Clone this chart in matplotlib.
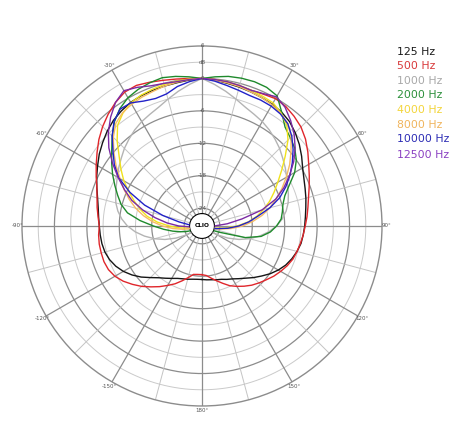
import numpy as np
import matplotlib
matplotlib.use("Agg")
import matplotlib.pyplot as plt

# angles in degrees, 0 = on axis, positive = clockwise (right side), 5 degree steps
angles = list(range(-180, 181, 5))

# level in dB; rows: -180..-125, -120..-65, -60..-5, 0, 5..60, 65..120, 125..180
# (-27 = below the plot, lost in the centre hole)
db_125 = [-17.4, -17.4, -17.3, -17.1, -16.9, -16.6, -16.1, -15.5, -14.8, -13.8, -12.6, -11.5,
          -10.5, -9.7, -9.1, -8.7, -8.5, -8.4, -8.3, -8.1, -7.8, -7.3, -6.6, -5.8,
          -5.0, -4.1, -3.3, -2.5, -1.8, -1.3, -0.9, -0.7, -0.6, -0.5, -0.4, -0.2,
          0.0,
          -0.2, -0.5, -0.7, -0.9, -1.1, -1.3, -1.6, -2.1, -2.9, -3.8, -4.8, -5.8,
          -6.5, -7.0, -7.4, -7.8, -8.1, -8.3, -8.5, -8.7, -9.1, -9.6, -10.2, -11.0,
          -11.9, -12.9, -13.8, -14.7, -15.4, -16.0, -16.4, -16.8, -17.0, -17.2, -17.3, -17.4]
db_500 = [-18.3, -18.3, -18.2, -17.4, -16.5, -15.5, -14.6, -13.6, -12.6, -11.5, -10.5, -9.5,
          -8.7, -8.2, -8.0, -8.0, -8.0, -8.1, -8.3, -8.0, -7.6, -7.2, -6.6, -5.7,
          -4.7, -3.6, -2.4, -1.3, -0.3, 0.6, 1.3, 1.4, 1.0, 0.6, 0.3, 0.1,
          0.0,
          -0.1, -0.3, -0.5, -0.6, -0.4, -0.1, -0.3, -0.8, -1.4, -2.3, -3.4, -4.5,
          -5.4, -6.2, -6.9, -7.4, -7.8, -8.2, -8.5, -8.8, -9.1, -9.4, -9.9, -10.5,
          -11.1, -11.8, -12.4, -13.0, -13.7, -14.4, -15.1, -16.0, -16.8, -17.5, -18.1, -18.3]
db_1000 = [-27] * 11 + [-25.8,
           -24.0, -22.0, -20.0, -18.2, -16.5, -14.9, -13.5, -12.4, -11.5, -10.8, -10.3, -9.8,
           -9.2, -8.5, -7.8, -7.0, -6.3, -5.6, -5.0, -4.5, -3.9, -3.0, -2.0, -1.0,
           0.0,
           -1.0, -2.0, -3.0, -3.9, -4.5, -5.0, -5.6, -6.3, -7.0, -7.8, -8.5, -9.2,
           -9.8, -10.3, -10.8, -11.5, -12.4, -13.5, -14.9, -16.5, -18.2, -20.0, -22.0, -24.0,
           -25.8] + [-27] * 11
db_2000 = [-27] * 12 + [
           -26.5, -25.5, -24.3, -23.2, -21.8, -20.2, -18.3, -15.8, -13.3, -11.8, -10.7, -9.5,
           -8.2, -6.9, -5.5, -3.8, -2.1, -0.8, 0.1, 0.6, 0.9, 1.1, 0.8, 0.4,
           0.0,
           0.4, 0.8, 1.0, 1.1, 1.0, 0.5, -1.6, -3.4, -4.2, -4.9, -6.0, -7.5,
           -9.5, -11.0, -11.8, -12.2, -12.6, -13.5, -14.6, -16.2, -19.0, -24.0, -25.8, -26.8,
           ] + [-27] * 12
db_4000 = [-27] * 12 + [
           -27, -27, -27, -26.5, -25.0, -23.2, -21.2, -19.0, -17.0, -15.5, -14.0, -12.4,
           -10.6, -9.0, -7.3, -5.1, -3.0, -1.8, -1.0, -0.6, -0.4, -0.2, -0.1, 0.0,
           0.0,
           -0.1, -0.2, -0.4, -0.6, -0.8, -1.0, -1.8, -2.9, -4.8, -7.2, -9.3, -11.1,
           -12.6, -14.0, -15.5, -17.0, -18.7, -20.8, -23.0, -25.0, -26.5, -27, -27, -27,
           ] + [-27] * 12
db_8000 = [-27] * 12 + [
           -27, -27, -27, -25.8, -23.8, -21.9, -20.0, -18.1, -16.3, -14.6, -13.0, -11.4,
           -9.8, -7.9, -6.0, -4.1, -2.5, -1.7, -1.3, -1.0, -0.8, -0.5, -0.3, -0.1,
           0.0,
           -0.2, -0.4, -0.6, -0.9, -1.1, -1.4, -1.9, -2.6, -4.0, -5.8, -7.5, -9.3,
           -11.0, -12.7, -14.3, -16.0, -17.9, -19.8, -21.9, -24.0, -26.0, -27, -27, -27,
           ] + [-27] * 12
db_10000 = [-27] * 12 + [
            -27, -27, -27, -27, -27, -27, -26.5, -25.0, -23.0, -19.8, -16.0, -12.6,
            -9.5, -7.5, -5.8, -3.8, -2.0, -0.9, -1.0, -1.8, -2.2, -2.0, -1.1, -0.5,
            0.0,
            -0.4, -0.9, -1.3, -1.6, -1.6, -1.7, -2.0, -2.6, -3.8, -5.3, -6.9, -8.5,
            -10.2, -12.0, -14.3, -16.8, -18.6, -20.5, -22.5, -24.5, -26.0, -27, -27, -27,
            ] + [-27] * 12
db_12500 = [-27] * 12 + [
            -27, -27, -27, -27, -27, -25.2, -23.0, -20.8, -18.5, -16.0, -13.5, -11.5,
            -9.4, -7.1, -4.8, -2.8, -1.0, 0.6, 1.6, 1.0, 0.3, 0.0, -0.2, -0.1,
            0.0,
            -0.1, -0.2, -0.4, -0.6, -0.3, 0.3, -0.5, -1.8, -3.2, -4.8, -6.6, -8.6,
            -10.6, -12.8, -15.8, -19.8, -22.6, -25.0, -26.5, -27, -27, -27, -27, -27,
            ] + [-27] * 12

labels = ["125 Hz", "500 Hz", "1000 Hz", "2000 Hz", "4000 Hz", "8000 Hz", "10000 Hz", "12500 Hz"]
line_colors = ["#151515", "#e0262b", "#b4b4b4", "#1f8a2c", "#f1e21c", "#f6bb63", "#2222c8", "#7b2aa3"]
text_colors = ["#1a1a1a", "#d8393a", "#a8a8a8", "#2b8f3a", "#f3d53a", "#f0b45c", "#2c2cb4", "#8a40c2"]
series = [db_125, db_500, db_1000, db_2000, db_4000, db_8000, db_10000, db_12500]
for s in series:
    assert len(s) == len(angles)

ring_db = [-24, -21, -18, -15, -12, -9, -6, -3, 0, 3]
ring_labels = {6: "6", 3: "dB", 0: "0", -6: "-6", -12: "-12", -18: "-18", -24: "-24"}
angle_labels = [-150, -120, -90, -60, -30, 30, 60, 90, 120, 150, 180]

fig = plt.figure(figsize=(4.74, 4.4), dpi=100)
ax = fig.add_axes([0.0464, 0.0773, 0.7595, 0.8182], projection="polar")
ax.set_theta_zero_location("N")
ax.set_theta_direction(-1)
ax.set_ylim(-25, 6)
ax.set_rorigin(-27.3)
ax.grid(False)
ax.set_xticks([])
ax.set_yticks([])
ax.spines["polar"].set_color("#8c8c8c")
ax.spines["polar"].set_linewidth(1.0)
ax.spines["inner"].set_visible(False)

# grid: rings every 3 dB (6 dB darker), spokes every 15 deg (30 deg darker)
full = np.linspace(0, 2 * np.pi, 400)
for r in ring_db:
    major = r % 6 == 0
    ax.plot(full, np.full_like(full, r), color="#8c8c8c" if major else "#cacaca",
            lw=0.9 if major else 0.7, zorder=1)
for a in range(0, 360, 15):
    major = a % 30 == 0
    t = np.deg2rad(a)
    ax.plot([t, t], [-25, 6], color="#8c8c8c" if major else "#c4c4c4",
            lw=0.9 if major else 0.7, zorder=1)

# curves
theta = np.deg2rad(angles)
for vals, c in zip(series, line_colors):
    ax.plot(theta, vals, color=c, lw=1.0, zorder=3)

# labels on the grid
for r, s in ring_labels.items():
    ax.text(0, r, s, fontsize=4, color="#555555", ha="center", va="center", zorder=4)
for a in angle_labels:
    ax.text(np.deg2rad(a), 6.9, f"{a}°", fontsize=4, color="#555555",
            ha="center", va="center", clip_on=False)
ax.text(0.5, 0.5, "CLIO", transform=ax.transAxes, fontsize=4.2, fontweight="bold",
        ha="center", va="center", zorder=5)

# legend as coloured text
leg_y = [51.7, 66.2, 81, 95.5, 110.3, 124.8, 139.5, 155]
for s, c, y in zip(labels, text_colors, leg_y):
    fig.text(397 / 474, 1 - y / 440, s, color=c, fontsize=7.8, ha="left", va="center")

fig.savefig("out.png", dpi=100)
